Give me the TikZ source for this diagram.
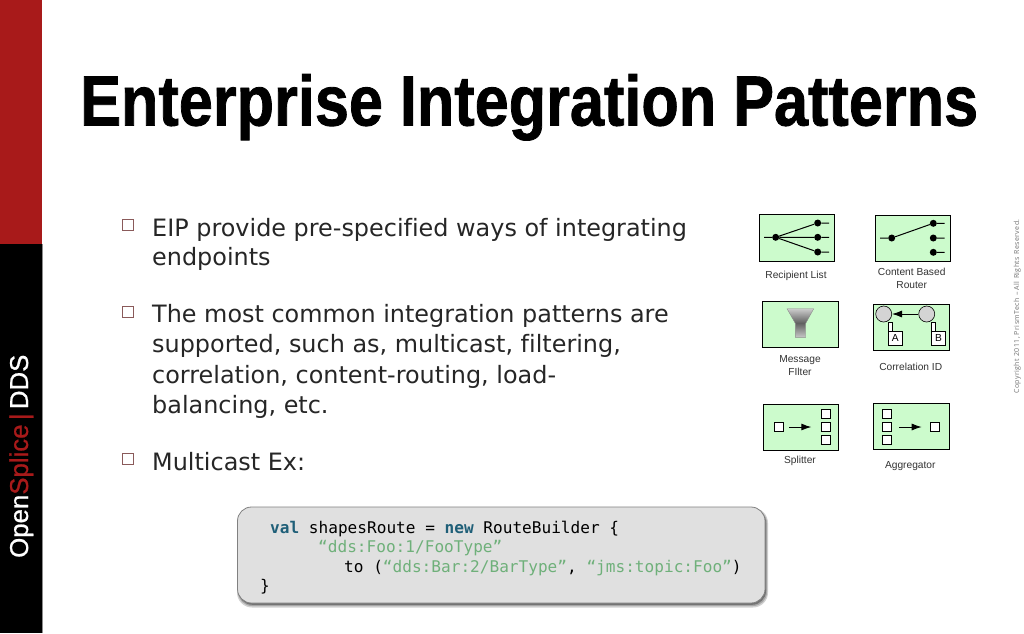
\documentclass[tikz,border=0pt]{standalone}
\usepackage{fontspec}
\usepackage{graphicx}
\setmainfont[Ligatures=NoCommon]{DejaVu Sans}
\newfontfamily\arial{Liberation Sans}
\newfontfamily\titlefont[FakeBold=1.2]{Liberation Sans Bold}
\newfontfamily\sidefont[FakeBold=0.8]{Liberation Sans}
\newfontfamily\codefont{DejaVu Sans Mono}
\newfontfamily\copyfont[LetterSpace=6]{Open Sans}
\usetikzlibrary{arrows.meta,shadings}
\definecolor{sidered}{HTML}{A81A1A}
\definecolor{iconfill}{HTML}{CCFBCC}
\definecolor{codekw}{HTML}{1F5F78}
\definecolor{codestr}{HTML}{6FB07A}
\definecolor{bulletedge}{HTML}{8A5A5A}
\tikzset{
  iconbox/.style={draw=black,line width=0.9pt,fill=iconfill},
  portdot/.style={circle,fill=black,inner sep=0pt,minimum size=7pt},
  link/.style={line width=1pt},
  iconlabel/.style={font=\arial\fontsize{10.2}{13}\selectfont,text=black!80,align=center,inner sep=0pt},
  msgsq/.style={draw=black,line width=0.7pt,fill=white,inner sep=0pt,minimum size=9.3pt},
  tagbox/.style={draw=black,line width=0.6pt,fill=white,inner sep=0pt,minimum width=14.2pt,minimum height=14.6pt,font=\arial\fontsize{10.2}{10}\selectfont},
  corr/.style={circle,draw=black,line width=0.6pt,fill=black!17,inner sep=0pt,minimum size=16pt},
  flow/.style={line width=0.9pt,-{Latex[length=10pt,width=7pt]}},
  bullettext/.style={anchor=base west,inner sep=0pt,font=\fontsize{23.9}{28}\selectfont,text=black!85},
  bulletbox/.style={draw=bulletedge,line width=0.7pt,fill=white,inner sep=0pt,minimum size=11pt},
  codeline/.style={anchor=base west,inner sep=0pt,font=\codefont\fontsize{16.1}{19}\selectfont,text=black},
}
\begin{document}
\begin{tikzpicture}[x=1pt,y=-1pt]
\useasboundingbox (0,0) rectangle (1024,633);
\fill[white] (0,0) rectangle (1024,633);
% sidebar
\fill[sidered] (0,0) rectangle (42,244);
\fill[black] (0,244) rectangle (42,633);
\fill[black!45] (42,244) rectangle (42.8,633);
\node[rotate=90,anchor=base west,inner sep=0pt,font=\sidefont\fontsize{25.8}{25}\selectfont,text=white] (brand) at (28,558)
  {Open\textcolor{sidered}{Splice}\,\textcolor{sidered}{|}\,DDS};
% title
\node[anchor=base west,inner sep=0pt] (title) at (80,125.5)
  {\resizebox{898pt}{\height}{\titlefont\fontsize{71}{71}\selectfont Enterprise Integration Patterns}};
% bullets
\node[bulletbox] (b1) at (128.3,225) {};
\node[bullettext] (t1a) at (152,236) {EIP provide pre-specified ways of integrating};
\node[bullettext] (t1b) at (152,265) {endpoints};
\node[bulletbox] (b2) at (128.3,312) {};
\node[bullettext] (t2a) at (152,322) {The most common integration patterns are};
\node[bullettext] (t2b) at (152,352.5) {supported, such as, multicast, filtering,};
\node[bullettext] (t2c) at (152,383) {correlation, content-routing, load-};
\node[bullettext] (t2d) at (152,413.5) {balancing, etc.};
\node[bulletbox] (b3) at (128.3,459) {};
\node[bullettext] (t3) at (152,470) {Multicast Ex:};
% code box
\fill[black!18,rounded corners=15pt] (237,508) rectangle (768,607.5);
\fill[black!35,rounded corners=14pt] (238,509) rectangle (767,606);
\fill[black!55,rounded corners=14pt] (238.5,509) rectangle (766,604.8);
\draw[draw=black!50,line width=0.8pt,fill=black!12,rounded corners=14pt] (237.5,507) rectangle (765,603);
\node[codeline] (c1) at (270,533) {\textcolor{codekw}{\textbf{val}} shapesRoute = \textcolor{codekw}{\textbf{new}} RouteBuilder \{};
\node[codeline,text=codestr] (c2) at (318,552) {“dds:Foo:1/FooType”};
\node[codeline] (c3) at (344,572) {to (\textcolor{codestr}{“dds:Bar:2/BarType”}, \textcolor{codestr}{“jms:topic:Foo”})};
\node[codeline] (c4) at (260,591) {\}};
% Recipient list
\draw[iconbox] (759.3,214.3) rectangle (834.7,261.3);
\node[portdot] (ra) at (775.7,237.3) {};
\node[portdot] (rb) at (817.7,223) {};
\node[portdot] (rc) at (817.7,237.3) {};
\node[portdot] (rd) at (817.7,252) {};
\coordinate (rain) at (764,237.3);
\coordinate (rbo) at (829,223);
\coordinate (rco) at (829,237.3);
\coordinate (rdo) at (829,252);
\draw[link] (rain)--(ra) (ra)--(rb) (ra)--(rc) (ra)--(rd) (rb)--(rbo) (rc)--(rco) (rd)--(rdo);
\node[iconlabel] (lr) at (796,275.5) {Recipient List};
% Content based router
\draw[iconbox] (875.3,215.7) rectangle (950.7,261.3);
\node[portdot] (ca) at (891.7,238) {};
\node[portdot] (cb) at (933.3,223.3) {};
\node[portdot] (cc) at (933.3,238) {};
\node[portdot] (cd) at (933.3,252.3) {};
\coordinate (cain) at (880,238);
\coordinate (cbo) at (944.7,223.3);
\coordinate (cco) at (944.7,238);
\coordinate (cdo) at (944.7,252.3);
\draw[link] (cain)--(ca) (ca)--(cb) (cb)--(cbo) (cc)--(cco) (cd)--(cdo);
\node[iconlabel] (lc) at (911.7,278.2) {Content Based\\Router};
% Message filter
\draw[iconbox] (762.3,301.3) rectangle (838.7,347.3);
\shade[top color=black!20,bottom color=black!22,middle color=black!62,draw=black!45,line width=0.4pt]
  (787,308.7) -- (813.7,308.7) -- (805.7,323.3) -- (805.7,337.3) -- (795.3,337.3) -- (795.3,323.3) -- cycle;
\node[iconlabel] (lf) at (800,365.2) {Message\\FIlter};
% Correlation ID
\draw[iconbox] (873.3,304.3) rectangle (949.7,350.3);
\node[corr] (ka) at (883.7,314) {};
\node[corr] (kb) at (926.7,314) {};
\draw[flow] (kb) -- (ka);
\draw[line width=0.5pt,fill=white] (888.2,322) rectangle (891.8,331);
\draw[line width=0.5pt,fill=white] (931.2,322) rectangle (934.8,331);
\node[tagbox] (ta) at (895.3,338.3) {A};
\node[tagbox] (tb) at (938.5,338.3) {B};
\node[iconlabel] (lk) at (910.7,366.7) {Correlation ID};
% Splitter
\draw[iconbox] (763.3,404.3) rectangle (838.3,450.3);
\node[msgsq] (sa) at (778.7,427) {};
\node[msgsq] (sb) at (826,414) {};
\node[msgsq] (sc) at (826,427) {};
\node[msgsq] (sd) at (826,439.7) {};
\coordinate (sf) at (789,427);
\coordinate (st) at (811.3,427);
\draw[flow] (sf) -- (st);
\node[iconlabel] (ls) at (800,461) {Splitter};
% Aggregator
\draw[iconbox] (873.3,403.3) rectangle (949.7,449.7);
\node[msgsq] (ga) at (887,414) {};
\node[msgsq] (gb) at (887,427) {};
\node[msgsq] (gc) at (887,439.7) {};
\node[msgsq] (gd) at (935,427) {};
\coordinate (gf) at (899,427);
\coordinate (gt) at (921.7,427);
\draw[flow] (gf) -- (gt);
\node[iconlabel] (lg) at (910.3,466) {Aggregator};
% copyright
\node[rotate=90,anchor=base west,inner sep=0pt,font=\copyfont\fontsize{7}{8}\selectfont,text=black!55] (copy) at (1019,394)
  {Copyright 2011, PrismTech – All Rights Reserved.};
\end{tikzpicture}
\end{document}
